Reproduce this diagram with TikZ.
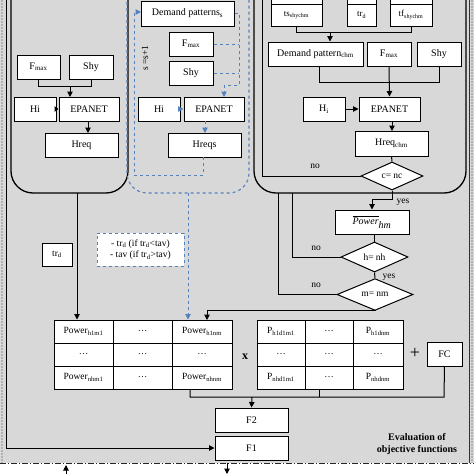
\documentclass[tikz,border=0pt]{standalone}
\usepackage{fontspec}
\setmainfont{Liberation Serif}
\usetikzlibrary{arrows.meta,shapes.geometric}
\definecolor{bg}{RGB}{216,216,216}
\definecolor{dblue}{RGB}{84,130,190}
\newcommand\sbs[1]{\textsubscript{#1}}
\begin{document}
\begin{tikzpicture}[x=1pt,y=-1pt,
 bx/.style={draw=black,fill=white,line width=1pt,inner sep=0pt,font=\fontsize{10}{11}\selectfont},
 cell/.style={draw=black,fill=white,line width=1pt,inner sep=0pt,minimum height=23,font=\fontsize{9.5}{10}\selectfont},
 dia/.style={draw=black,fill=white,diamond,line width=1pt,inner sep=0pt,font=\fontsize{9.5}{10}\selectfont},
 ln/.style={line width=1pt},
 arr/.style={ln,-{Triangle[length=5.5pt,width=5.5pt]}},
 bln/.style={dblue,dashed,line width=1pt},
 barr/.style={bln,-{Triangle[length=5.5pt,width=5.5pt]}},
 lbl/.style={font=\fontsize{9.5}{10}\selectfont},
 ct/.style={font=\fontsize{9.5}{10}\selectfont}]
\useasboundingbox (0,0) rectangle (474,474);
% background
\fill[bg] (0,0) rectangle (474,463);
\fill[white] (0,463) rectangle (474,474);
\draw[gray!60,line width=2pt,dash pattern=on 2pt off 1pt] (2,0) -- (2,463);
\draw[gray!60,line width=2pt,dash pattern=on 2pt off 1pt] (472,0) -- (472,463);
\draw[black!80,line width=0.5pt] (469,0) -- (469,463);
\draw[black!85,line width=1pt,dash pattern=on 6pt off 2pt on 1pt off 2pt] (0,463) -- (474,463);

% panels
\draw[line width=1.3pt,rounded corners=22] (11,-40) -- (11,193) -- (128,193) -- (128,-40);
\draw[dblue,dashed,line width=1.1pt,rounded corners=20] (127,-40) -- (127,193) -- (249,193) -- (249,-40);
\draw[line width=1.3pt,rounded corners=22] (254,-40) -- (254,193) -- (466,193) -- (466,-40);

% ---------------- left panel
\node[bx,minimum width=43,minimum height=24] (lFmax) at (38.5,67) {F\sbs{max}};
\node[bx,minimum width=44,minimum height=24] (lShy) at (91,67) {Shy};
\node[bx,minimum width=60,minimum height=24] (lEP) at (89,109) {EPANET};
\node[bx,minimum width=42,minimum height=24] (lHi) at (35,109) {Hi};
\node[bx,minimum width=73,minimum height=24] (lHreq) at (81.5,145) {Hreq};
\draw[ln] (lFmax.south) |- (91,86) -- (lShy.south);
\draw[arr] (70,86) -- (70,97);
\draw[ln,-{Triangle[length=4pt,width=5.5pt]}] (lHi.east) -- (lEP.west);
\draw[arr] (88,121) -- (88,133);

% ---------------- middle panel
\node[bx,minimum width=93,minimum height=25] (mDem) at (187.5,13.5) {Demand patterns\sbs{s}};
\node[bx,minimum width=44,minimum height=24] (mFmax) at (191,44) {F\sbs{max}};
\node[bx,minimum width=44,minimum height=24] (mShy) at (191,73) {Shy};
\node[bx,minimum width=42,minimum height=24] (mHi) at (159,109) {Hi};
\node[bx,minimum width=60,minimum height=24] (mEP) at (214,109) {EPANET};
\node[bx,minimum width=73,minimum height=24] (mHreq) at (204.5,145) {Hreqs};
\draw[bln] (mDem.east) -- (239,13.5) -- (239,85) -- (224,85);
\draw[bln] (mFmax.east) -- (239,44);
\draw[bln] (mShy.east) -- (239,73);
\draw[barr] (224,85) -- (224,97);
\draw[barr] (mHi.east) -- (mEP.west);
\draw[barr] (205,121) -- (205,133);
\draw[barr] (203,157) -- (203,175) -- (134,175) -- (134,12) -- (141,12);
\node[lbl,rotate=90] (sloop) at (145,58) {s =s+1};

% ---------------- right panel
\draw[ln,fill=white] (271,-20) rectangle (322,4);
\draw[ln,fill=white] (347,-20) rectangle (376,4);
\draw[ln,fill=white] (390,-20) rectangle (432,4);
\node[bx,minimum width=51,minimum height=22,font=\fontsize{9}{10}\selectfont] (rTs) at (296.5,15) {ts\sbs{shychm}};
\node[bx,minimum width=29,minimum height=22,font=\fontsize{9}{10}\selectfont] (rTr) at (361.5,15) {tr\sbs{d}};
\node[bx,minimum width=42,minimum height=22,font=\fontsize{9}{10}\selectfont] (rTf) at (411,15) {tf\sbs{shychm}};
\draw[ln] (rTs.south) |- (411,32) -- (rTf.south);
\node[bx,minimum width=95,minimum height=24] (rDem) at (315.5,54) {Demand pattern\sbs{chm}};
\node[bx,minimum width=44,minimum height=24] (rFmax) at (389,54) {F\sbs{max}};
\node[bx,minimum width=44,minimum height=24] (rShy) at (439,54) {Shy};
\draw[arr] (330,32) -- (rDem.north -| 330,0);
\draw[ln] (319,66) |- (439,82) -- (rShy.south);
\node[bx,minimum width=42,minimum height=24] (rHi) at (324,109) {H\sbs{i}};
\node[bx,minimum width=61,minimum height=24] (rEP) at (389.5,109) {EPANET};
\draw[arr] (rFmax.south) -- (rEP.north);
\draw[arr] (rHi.east) -- (rEP.west);
\node[bx,minimum width=73,minimum height=25] (rHreq) at (391.5,143.5) {Hreq\sbs{chm}};
\draw[arr] (392,121) -- (392,131);
\node[dia,minimum width=62,minimum height=28] (rC) at (392,176) {c= nc};
\draw[ln] (rHreq.south) -- (rC.north);
\draw[ln] (rC.west) -- (262,176) -- (262,-40);
\node[lbl] (no1) at (315,166) {no};

% ---------------- loops below right panel
\node[bx,minimum width=74,minimum height=24] (rPow) at (372,222) {$\overline{\textit{Power}}_{\textit{hm}}$};
\draw[arr] (rC.south) -- (392,199) -- (372,199) -- (rPow.north);
\node[lbl] (yes1) at (403,202) {yes};
\node[dia,minimum width=67,minimum height=30] (rH) at (374.5,257) {h= nh};
\draw[ln] (374.5,234) -- (rH.north);
\draw[ln] (rH.west) -- (292,257) -- (292,193);
\node[lbl] (no2) at (316,248) {no};
\node[dia,minimum width=76,minimum height=27] (rM) at (375,294.5) {m= nm};
\draw[ln] (rH.south) -- (rM.north);
\node[lbl] (yes2) at (389,277) {yes};
\draw[ln] (rM.west) -- (278,294.5) -- (278,193);
\node[lbl] (no3) at (316,285) {no};

% ---------------- left/middle lower part
\coordinate (lPb) at (77,193);
\coordinate (mPb) at (188,193);
\node[bx,minimum width=30,minimum height=23,font=\fontsize{9.5}{10}\selectfont] (trd) at (57,254.5) {tr\sbs{d}};
\node[draw=dblue,dashed,fill=white,line width=1pt,minimum width=87,minimum height=33,inner sep=0pt,align=center,font=\fontsize{9.5}{11.5}\selectfont] (cond) at (140.5,249.5) {- tr\sbs{d} (if tr\sbs{d}<tav)\\- tav (if tr\sbs{d}>tav)};

% ---------------- Power table
\foreach \c/\x/\w in {1/83.5/59,2/142.5/59,3/202/60}{
  \foreach \r/\y in {1/331.5,2/354.5,3/377.5}{
    \node[cell,minimum width=\w] (A\r\c) at (\x,\y) {};
  }}
\node[ct] at (A11) {Power\sbs{h1m1}};
\node[ct] at (A12) {\ldots};
\node[ct] at (A13) {Power\sbs{h1nm}};
\node[ct] at (A21) {\ldots};
\node[ct] at (A22) {\ldots};
\node[ct] at (A23) {\ldots};
\node[ct] at (A31) {Power\sbs{nhm1}};
\node[ct] at (A32) {\ldots};
\node[ct] at (A33) {Power\sbs{nhnm}};

% ---------------- P table
\foreach \c/\x/\w in {1/281/48,2/329/48,3/378/50}{
  \foreach \r/\y in {1/331.5,2/354.5,3/377.5}{
    \node[cell,minimum width=\w] (P\r\c) at (\x,\y) {};
  }}
\node[ct] at (P11) {P\sbs{h1d1m1}};
\node[ct] at (P12) {\ldots};
\node[ct] at (P13) {P\sbs{h1dnm}};
\node[ct] at (P21) {\ldots};
\node[ct] at (P22) {\ldots};
\node[ct] at (P23) {\ldots};
\node[ct] at (P31) {P\sbs{nhd1m1}};
\node[ct] at (P32) {\ldots};
\node[ct] at (P33) {P\sbs{nhdnm}};

\node[font=\fontsize{12}{12}\bfseries\selectfont] (times) at (245,357) {x};
\node[font=\fontsize{18}{18}\selectfont] (plus) at (415,353) {+};
\node[bx,minimum width=35,minimum height=24] (FC) at (444.5,354) {FC};

% arrows into tables
\draw[arr] (lPb) -- (lPb |- A11.north);
\draw[barr] (mPb) -- (mPb |- A13.north);
\draw[arr] (rM.south) |- (207,310) -- (207,320);

% ---------------- objective functions
\node[bx,minimum width=73,minimum height=24] (F2) at (251.5,420) {F2};
\node[bx,minimum width=73,minimum height=24] (F1) at (251.5,448) {F1};
\draw[ln] (190,389) -- (190,397) -- (444,397) -- (FC.south);
\draw[ln] (319,389) -- (319,397);
\draw[arr] (252,397) -- (F2.north);
\draw[arr] (6,-5) -- (6,448) -- (F1.west);
\node[align=center,font=\fontsize{10}{12.5}\bfseries\selectfont] (evalf) at (417,444) {Evaluation of\\objective functions};

% bottom arrows
\coordinate (ua) at (66,474);
\coordinate (da) at (227,463);
\draw[arr] (ua) -- (66,465);
\draw[arr] (da) -- (227,474);
\end{tikzpicture}
\end{document}
